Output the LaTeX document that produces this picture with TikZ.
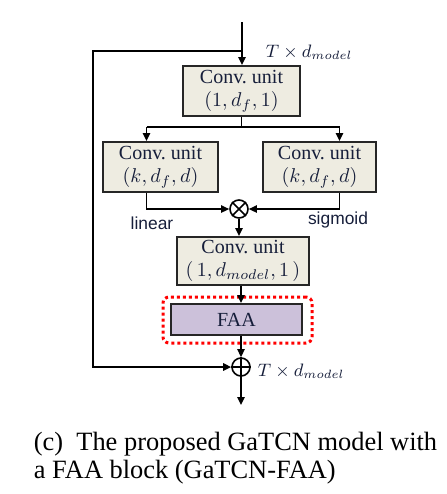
\documentclass[tikz,border=0pt]{standalone}
\usepackage{fontspec}
\setmainfont{Liberation Serif}
\newfontfamily\gatefont{Liberation Sans}
\usetikzlibrary{arrows.meta,positioning}
\definecolor{unitfill}{HTML}{EEECE1}
\definecolor{faafill}{HTML}{CCC1DA}
\definecolor{inkblue}{RGB}{22,30,58}
\tikzset{
  convbox/.style={draw=black!85,line width=1pt,fill=unitfill,minimum height=25pt,
    align=center,inner sep=0pt,text=inkblue,font=\fontsize{10}{11.5}\selectfont},
  opnode/.style={draw,circle,line width=0.8pt,minimum size=9pt,inner sep=0pt},
  dimlabel/.style={text=inkblue,font=\fontsize{8.8}{10}\selectfont,anchor=base west,inner sep=0pt},
  gatelabel/.style={text=inkblue,font=\gatefont\fontsize{8.7}{10}\selectfont,anchor=base,inner sep=0pt},
  caption/.style={anchor=base west,inner sep=0pt,font=\fontsize{13.2}{14}\selectfont},
}
\begin{document}
\begin{tikzpicture}[x=0.5pt,y=-0.5pt,>={Triangle[length=4pt,width=3.6pt]},line width=0.9pt]
  \useasboundingbox (0,0) rectangle (446,494);
  % boxes
  \node[convbox,minimum width=58.5pt] (unitA) at (241.5,91) {Conv.\ unit\\$(1,d_f,1)$};
  \node[convbox,minimum width=57.5pt] (unitL) at (160.5,167) {Conv.\ unit\\$(k,d_f,d)$};
  \node[convbox,minimum width=56.5pt] (unitR) at (319.5,167) {Conv.\ unit\\$(k,d_f,d)$};
  \node[convbox,minimum width=66pt,minimum height=24pt] (unitC) at (243,261) {Conv.\ unit\\$(\,1,d_{model},1\,)$};
  \node[convbox,fill=faafill,minimum width=65.5pt,minimum height=15.5pt] (faa) at (236.5,319.5) {FAA};
  \node[draw=red,line width=1.5pt,dash pattern=on 1.5pt off 1.5pt,rounded corners=3pt,
    minimum width=74.5pt,minimum height=23pt] (faaframe) at (237.5,320) {};
  % operators
  \node[opnode] (mult) at (239,209) {};
  \draw[line width=0.8pt] (mult.45) -- (mult.225) (mult.135) -- (mult.315);
  \node[opnode] (add) at (241,367) {};
  \draw[line width=0.8pt] (add.north) -- (add.south) (add.west) -- (add.east);
  % connectors
  \coordinate (top) at (242,22);
  \coordinate (tap) at (242,51);
  \coordinate (back) at (93,367);
  \coordinate (split) at (242,127);
  \coordinate (inL) at (146.5,127);
  \coordinate (inR) at (339.5,127);
  \coordinate (out) at (241,405);
  \draw[->] (top) -- (top |- unitA.north);
  \draw[->,line width=1.4pt] (tap) -| (back) -- (add.west);
  \draw (unitA.south |- unitA.south) -- (unitA.south |- split);
  \draw (inL) -- (inR);
  \draw[->] (inL) -- (inL |- unitL.north);
  \draw[->] (inR) -- (inR |- unitR.north);
  \draw[->] (inL |- unitL.south) |- (mult.west);
  \draw[->] (inR |- unitR.south) |- (mult.east);
  \draw[->] (mult.south) -- (mult.south |- unitC.north);
  \draw[->] (add |- unitC.south) -- (add |- faa.north);
  \draw[->] (add |- faa.south) -- (add.north);
  \draw[->] (add.south) -- (out);
  % labels
  \node[dimlabel] (dimIn) at (265,57) {$T\times d_{model}$};
  \node[dimlabel] (dimOut) at (257,376) {$T\times d_{model}$};
  \node[gatelabel] (linLbl) at (152,229) {linear};
  \node[gatelabel] (sigLbl) at (338,224) {sigmoid};
  % caption
  \node[caption] (capA) at (33,450) {(c)\ \ The proposed GaTCN model with};
  \node[caption] (capB) at (33,478) {a FAA block (GaTCN-FAA)};
\end{tikzpicture}
\end{document}
